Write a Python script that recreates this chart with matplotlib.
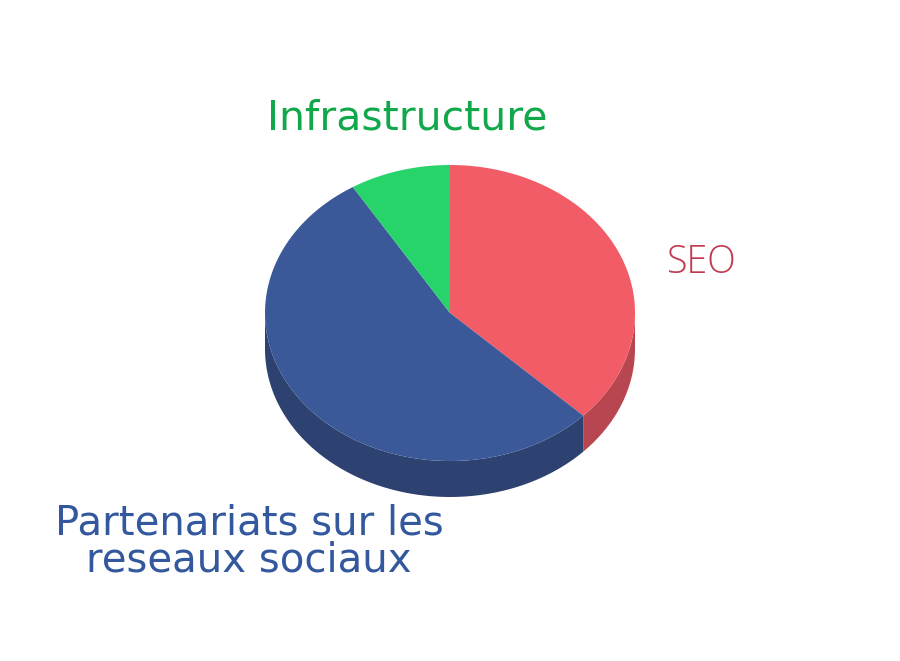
import numpy as np
import matplotlib
matplotlib.use("Agg")
import matplotlib.pyplot as plt
from matplotlib.patches import Polygon

# slices, clockwise from 12 o'clock
labels = ["SEO", "Partenariats sur les\nreseaux sociaux", "Infrastructure"]
values = [37.2, 54.0, 8.8]
top_colors = ["#f15c67", "#3b5998", "#26d46a"]
side_colors = ["#b84651", "#2d4271", "#1c9e4f"]
label_colors = ["#c23a50", "#33589d", "#10a84a"]

cx, cy = 450, 313
rx, ry = 185, 148
depth = 36

fig = plt.figure(figsize=(9, 6.61), dpi=100)
ax = fig.add_axes([0, 0, 1, 1])
ax.set_xlim(0, 900)
ax.set_ylim(661, 0)
ax.axis("off")


def arc(t0, t1, n=200):
    t = np.radians(np.linspace(t0, t1, n))
    return cx + rx * np.sin(t), cy - ry * np.cos(t)


edges = np.concatenate([[0], np.cumsum(values) / sum(values) * 360])

# side walls, only the front half (90..270 deg) shows
for i in range(len(values)):
    a0, a1 = max(edges[i], 90), min(edges[i + 1], 270)
    if a1 <= a0:
        continue
    x, y = arc(a0, a1)
    pts = np.column_stack([np.concatenate([x, x[::-1]]),
                           np.concatenate([y, y[::-1] + depth])])
    ax.add_patch(Polygon(pts, closed=True, fc=side_colors[i], ec="none"))

# top face
for i in range(len(values)):
    x, y = arc(edges[i], edges[i + 1])
    pts = np.column_stack([np.concatenate([[cx], x]), np.concatenate([[cy], y])])
    ax.add_patch(Polygon(pts, closed=True, fc=top_colors[i], ec="none"))

ax.text(702, 263, labels[0], color=label_colors[0], fontsize=27,
        family="Open Sans", weight="light", ha="center", va="center")
ax.text(249, 542, labels[1], color=label_colors[1], fontsize=29,
        family="DejaVu Sans", ha="center", va="center", linespacing=0.92)
ax.text(407, 119, labels[2], color=label_colors[2], fontsize=29.4,
        family="DejaVu Sans", ha="center", va="center")

fig.savefig("out.png", dpi=100, facecolor="white")
